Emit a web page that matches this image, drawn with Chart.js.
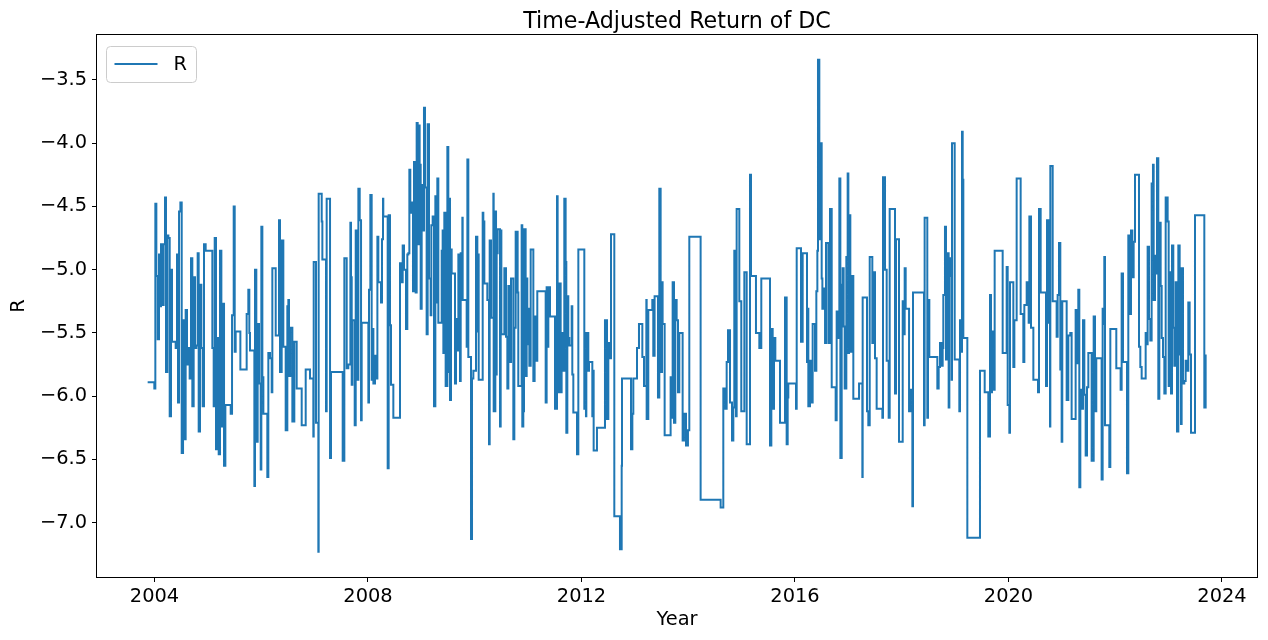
<!DOCTYPE html>
<html lang="en">
  <head>
    <meta charset="UTF-8" />
    <title>Time-Adjusted Return of DC</title>
    <style>
      html,
      body {
        margin: 0;
        padding: 0;
        background: #ffffff;
      }
      #wrap {
        width: 1268px;
        height: 640px;
      }
    </style>
  </head>
  <body>
    <div id="wrap">
      <canvas id="returnChart" width="1268" height="640"></canvas>
    </div>

    <script src="https://cdn.jsdelivr.net/npm/chart.js@4.4.0/dist/chart.umd.min.js"></script>
    <script>
      // Dates as decimal years
      const years = [
        // 2004 - 2005
        2003.872, 2003.997, 2004.016, 2004.035, 2004.060, 2004.085, 2004.103, 2004.122,
        2004.147, 2004.172, 2004.197, 2004.216, 2004.241, 2004.260, 2004.285, 2004.310,
        2004.328, 2004.397, 2004.422, 2004.441, 2004.460, 2004.485, 2004.510, 2004.535,
        2004.560, 2004.584, 2004.609, 2004.634, 2004.659, 2004.684, 2004.709, 2004.734,
        2004.759, 2004.784, 2004.809, 2004.828, 2004.853, 2004.878, 2004.903, 2004.928,
        2004.959, 2005.084, 2005.109, 2005.128, 2005.153, 2005.178, 2005.203, 2005.228,
        2005.253, 2005.278, 2005.303, 2005.328, 2005.428, 2005.453, 2005.484, 2005.503,
        2005.521, 2005.609,
        // 2005 - 2008
        2005.727, 2005.758, 2005.777, 2005.790, 2005.871, 2005.883, 2005.908, 2005.933,
        2005.958, 2005.990, 2006.002, 2006.021, 2006.040, 2006.114, 2006.133, 2006.164,
        2006.196, 2006.208, 2006.271, 2006.333, 2006.352, 2006.383, 2006.414, 2006.458,
        2006.489, 2006.508, 2006.520, 2006.545, 2006.583, 2006.620, 2006.664, 2006.758,
        2006.833, 2006.914, 2006.976, 2006.983, 2007.026, 2007.070, 2007.076, 2007.133,
        2007.145, 2007.214, 2007.226, 2007.289, 2007.307, 2007.526, 2007.557, 2007.601,
        2007.632, 2007.670, 2007.682, 2007.695, 2007.707, 2007.751, 2007.770, 2007.795,
        2007.820, 2007.845, 2007.870, 2007.882, 2008.007, 2008.019, 2008.044, 2008.069,
        2008.088, 2008.101, 2008.132, 2008.163, 2008.176, 2008.194, 2008.244,
        // 2008 - 2010
        2008.262, 2008.281, 2008.287, 2008.369, 2008.387, 2008.412, 2008.431, 2008.475,
        2008.600, 2008.631, 2008.650, 2008.675, 2008.712, 2008.737, 2008.756, 2008.775,
        2008.793, 2008.812, 2008.843, 2008.862, 2008.881, 2008.893, 2008.912, 2008.931,
        2008.950, 2008.968, 2008.987, 2009.006, 2009.024, 2009.037, 2009.049, 2009.068,
        2009.099, 2009.118, 2009.143, 2009.174, 2009.187, 2009.212, 2009.237, 2009.262,
        2009.281, 2009.299, 2009.318, 2009.381, 2009.399, 2009.412, 2009.430, 2009.455,
        2009.487, 2009.505, 2009.524, 2009.537, 2009.555, 2009.568, 2009.630, 2009.649,
        2009.674, 2009.693, 2009.724, 2009.737, 2009.768, 2009.774, 2009.849, 2009.862,
        2009.880, 2009.930, 2009.949, 2009.974, 2010.024, 2010.049, 2010.061, 2010.074,
        2010.149, 2010.161, 2010.180, 2010.236, 2010.267, 2010.280, 2010.305, 2010.349,
        2010.355, 2010.386, 2010.399, 2010.411, 2010.430, 2010.474, 2010.486, 2010.499,
        2010.555, 2010.586, 2010.611, 2010.630, 2010.655, 2010.680, 2010.723, 2010.742,
        2010.767,
        // 2010 - 2013
        2010.804, 2010.816, 2010.879, 2010.891, 2010.910, 2010.923, 2010.954, 2010.973,
        2010.985, 2011.004, 2011.023, 2011.048, 2011.098, 2011.122, 2011.148, 2011.172,
        2011.329, 2011.347, 2011.366, 2011.379, 2011.410, 2011.504, 2011.541, 2011.553,
        2011.585, 2011.610, 2011.628, 2011.653, 2011.678, 2011.703, 2011.716, 2011.735,
        2011.753, 2011.772, 2011.816, 2011.828, 2011.847, 2011.916, 2011.941, 2012.053,
        2012.084, 2012.091, 2012.128, 2012.141, 2012.203, 2012.222, 2012.228, 2012.290,
        2012.440, 2012.478, 2012.503, 2012.534, 2012.553, 2012.615, 2012.721, 2012.753,
        2012.759, 2012.928, 2012.953, 2012.971, 2013.040, 2013.077, 2013.140, 2013.171,
        2013.215, 2013.221, 2013.252,
        // 2013 - 2015
        2013.327, 2013.345, 2013.370, 2013.433, 2013.458, 2013.483, 2013.508, 2013.520,
        2013.558, 2013.670, 2013.683, 2013.708, 2013.733, 2013.758, 2013.783, 2013.808,
        2013.833, 2013.895, 2013.920, 2013.958, 2013.995, 2014.020, 2014.232, 2014.607,
        2014.657, 2014.695, 2014.720, 2014.745, 2014.782, 2014.820, 2014.845, 2014.863,
        2014.895, 2014.907, 2014.957, 2014.994, 2015.051, 2015.095, 2015.157, 2015.176,
        2015.269, 2015.332, 2015.369, 2015.532, 2015.557, 2015.582, 2015.607, 2015.632,
        2015.719, 2015.813,
        // 2015 - 2018
        2015.844, 2015.863, 2015.875, 2016.019, 2016.032, 2016.113, 2016.144, 2016.225,
        2016.238, 2016.250, 2016.281, 2016.313, 2016.331, 2016.375, 2016.400, 2016.419,
        2016.431, 2016.456, 2016.463, 2016.500, 2016.513, 2016.538, 2016.563, 2016.581,
        2016.625, 2016.656, 2016.688, 2016.762, 2016.781, 2016.800, 2016.812, 2016.831,
        2016.850, 2016.875, 2016.894, 2016.912, 2016.931, 2016.962, 2016.987, 2017.000,
        2017.012, 2017.037, 2017.062, 2017.093, 2017.200, 2017.262, 2017.268, 2017.349,
        2017.374, 2017.400, 2017.449, 2017.474, 2017.499, 2017.530, 2017.637, 2017.649,
        2017.687, 2017.718, 2017.755, 2017.774, 2017.874, 2017.893, 2017.949, 2018.018,
        2018.037, 2018.055, 2018.074, 2018.137, 2018.161, 2018.199, 2018.211,
        // 2018 - 2020
        2018.417, 2018.429, 2018.479, 2018.492, 2018.517, 2018.667, 2018.692, 2018.717,
        2018.742, 2018.767, 2018.779, 2018.810, 2018.829, 2018.854, 2018.879, 2018.892,
        2018.917, 2018.935, 2018.942, 2018.992, 2019.079, 2019.092, 2019.110, 2019.129,
        2019.142, 2019.154, 2019.229, 2019.466, 2019.554, 2019.622, 2019.654, 2019.672,
        2019.691, 2019.729, 2019.741, 2019.891, 2019.966, 2019.985, 2020.016, 2020.028,
        2020.091, 2020.110, 2020.153, 2020.228, 2020.278, 2020.297, 2020.341, 2020.378,
        2020.391, 2020.422, 2020.466, 2020.553, 2020.572, 2020.603, 2020.703, 2020.722,
        2020.747, 2020.778, 2020.784, 2020.828,
        // 2020 - 2023
        2020.902, 2020.921, 2020.946, 2020.971, 2020.996, 2021.008, 2021.090, 2021.121,
        2021.158, 2021.183, 2021.258, 2021.277, 2021.308, 2021.327, 2021.346, 2021.371,
        2021.396, 2021.421, 2021.446, 2021.471, 2021.496, 2021.558, 2021.596, 2021.621,
        2021.645, 2021.745, 2021.764, 2021.783, 2021.795, 2021.808, 2021.889, 2021.908,
        2022.020, 2022.101, 2022.120, 2022.145, 2022.220, 2022.245, 2022.270, 2022.295,
        2022.320, 2022.345, 2022.370, 2022.445, 2022.470, 2022.495, 2022.570, 2022.589,
        2022.607, 2022.632, 2022.657, 2022.682, 2022.707, 2022.720, 2022.745, 2022.764,
        2022.782, 2022.807, 2022.826, 2022.851, 2022.870, 2022.895, 2022.920, 2022.945,
        2022.982, 2023.001, 2023.020, 2023.045, 2023.063, 2023.088, 2023.107, 2023.132,
        2023.157, 2023.182, 2023.207, 2023.232, 2023.244, 2023.269, 2023.294, 2023.319,
        2023.344, 2023.369, 2023.394, 2023.419, 2023.494, 2023.669, 2023.694,
      ];

      // R value in force from each date above until the next one
      const returns = [
        // 2004 - 2005
        -5.89, -5.94, -4.48, -5.05, -5.55, -4.88, -5.29, -4.80,
        -5.28, -4.80, -4.43, -5.81, -4.73, -4.75, -6.16, -5.00,
        -5.57, -5.62, -4.88, -6.05, -4.54, -4.47, -6.45, -5.40,
        -6.34, -5.32, -5.75, -5.62, -5.86, -4.91, -6.08, -5.06,
        -5.62, -5.60, -4.87, -6.28, -5.12, -5.62, -6.08, -4.80,
        -4.85, -5.62, -6.08, -4.75, -6.42, -5.54, -6.46, -4.85,
        -6.24, -5.27, -6.55, -6.07, -6.14, -5.36, -4.50, -5.65,
        -5.49, -5.79,
        // 2005 - 2008
        -5.35, -5.16, -5.50, -5.64, -6.71, -5.00, -6.36, -5.43,
        -5.90, -6.58, -4.66, -5.85, -6.14, -6.64, -5.66, -5.70,
        -5.97, -4.99, -5.52, -4.61, -5.81, -4.77, -5.61, -6.27,
        -5.29, -5.24, -5.84, -5.46, -6.20, -5.57, -5.94, -6.23,
        -5.79, -5.86, -6.32, -4.94, -6.21, -7.23, -4.40, -4.62,
        -4.92, -6.12, -4.44, -6.49, -5.81, -6.51, -4.91, -5.78,
        -5.75, -4.63, -5.06, -5.91, -5.40, -6.23, -4.69, -5.87,
        -4.36, -4.61, -6.19, -5.42, -6.05, -5.16, -4.41, -5.87,
        -5.47, -5.90, -5.68, -5.86, -4.74, -5.10, -5.26,
        // 2008 - 2010
        -4.76, -4.44, -4.58, -6.57, -4.57, -5.44, -5.91, -6.17,
        -4.95, -5.10, -4.81, -5.00, -5.47, -4.88, -4.87, -4.21,
        -4.55, -4.47, -5.17, -4.15, -4.69, -5.18, -3.84, -4.80,
        -3.86, -4.17, -5.31, -4.33, -4.50, -4.69, -3.72, -4.35,
        -5.51, -3.85, -5.07, -5.36, -4.65, -4.58, -6.08, -4.42,
        -5.26, -4.28, -5.42, -4.85, -4.69, -5.66, -4.55, -5.92,
        -4.03, -5.81, -4.44, -6.03, -4.84, -5.03, -5.90, -5.39,
        -5.64, -4.88, -5.88, -4.87, -4.59, -5.24, -5.61, -4.13,
        -5.69, -7.13, -5.86, -5.80, -4.74, -5.49, -4.88, -5.87,
        -4.55, -4.62, -5.11, -5.24, -6.38, -4.77, -5.38, -4.40,
        -6.12, -4.54, -5.83, -4.87, -4.68, -6.24, -4.69, -5.51,
        -4.99, -5.53, -5.94, -5.13, -5.73, -5.07, -6.34, -5.46,
        -4.70,
        // 2010 - 2013
        -5.18, -5.92, -4.65, -6.24, -6.12, -4.68, -5.84, -5.07,
        -5.59, -5.31, -5.76, -4.84, -5.88, -5.37, -5.72, -5.17,
        -6.05, -5.14, -5.61, -5.14, -5.37, -6.10, -4.42, -5.97,
        -5.11, -5.97, -5.50, -5.80, -4.44, -4.94, -6.29, -5.21,
        -5.54, -5.60, -5.29, -5.83, -6.13, -6.46, -4.84, -6.10,
        -6.16, -5.50, -5.80, -5.73, -6.16, -5.80, -6.43, -6.25,
        -5.40, -6.18, -5.58, -5.70, -4.72, -6.95, -7.21, -6.55,
        -5.86, -6.42, -6.14, -5.86, -5.62, -5.43, -5.69, -5.92,
        -5.24, -6.18, -5.32,
        // 2013 - 2015
        -5.24, -5.68, -5.21, -6.01, -4.36, -5.81, -5.10, -5.43,
        -6.31, -5.85, -6.17, -5.10, -6.21, -5.24, -5.40, -5.97,
        -5.50, -6.35, -6.14, -6.39, -6.27, -4.74, -6.82, -6.88,
        -5.94, -6.10, -5.73, -5.48, -6.05, -6.35, -6.09, -4.85,
        -6.16, -4.52, -5.25, -6.12, -5.02, -6.38, -4.25, -5.05,
        -5.50, -5.62, -5.07, -6.39, -5.47, -6.10, -5.54, -5.72,
        -6.21, -5.22,
        // 2015 - 2018
        -6.38, -6.01, -5.90, -6.10, -4.83, -5.57, -4.87, -5.73,
        -5.31, -6.08, -5.72, -6.05, -5.43, -5.80, -5.17, -4.85,
        -3.34, -4.76, -4.00, -5.07, -5.31, -5.15, -5.58, -4.79,
        -5.58, -4.52, -5.93, -6.19, -5.33, -5.44, -5.54, -4.28,
        -6.49, -5.12, -4.99, -5.45, -5.94, -4.90, -4.24, -5.66,
        -4.57, -5.65, -5.05, -6.02, -5.90, -6.64, -5.22, -6.12,
        -6.23, -4.90, -5.58, -5.02, -5.70, -6.10, -6.17, -4.27,
        -5.00, -5.72, -6.17, -4.52, -5.98, -4.76, -6.36, -5.25,
        -5.51, -4.99, -5.31, -6.12, -5.95, -6.87, -5.18,
        // 2018 - 2020
        -6.23, -4.59, -6.17, -5.24, -5.69, -5.94, -5.77, -5.58,
        -5.76, -5.62, -5.20, -4.66, -5.71, -4.87, -6.09, -4.91,
        -5.05, -5.87, -4.00, -5.71, -6.12, -5.40, -5.65, -3.91,
        -4.29, -5.54, -7.12, -5.80, -5.97, -6.32, -5.20, -5.97,
        -5.49, -5.95, -4.85, -5.66, -4.98, -6.07, -6.29, -5.10,
        -5.77, -5.40, -4.28, -5.35, -5.73, -5.28, -5.10, -5.42,
        -4.58, -5.46, -5.87, -5.97, -4.52, -5.18, -5.92, -4.61,
        -5.42, -6.24, -4.18, -5.25,
        // 2020 - 2023
        -5.53, -5.20, -4.79, -5.79, -6.36, -5.25, -6.03, -5.52,
        -5.50, -6.18, -5.32, -5.74, -5.16, -6.72, -5.95, -6.10,
        -5.40, -5.99, -6.47, -5.93, -5.66, -6.51, -5.37, -6.12,
        -5.70, -6.66, -5.31, -5.43, -4.90, -6.23, -6.56, -5.47,
        -5.78, -5.95, -5.03, -5.73, -6.61, -4.73, -5.35, -4.69,
        -5.06, -4.78, -4.25, -5.61, -5.77, -5.86, -5.50, -5.59,
        -4.82, -5.39, -5.56, -4.32, -4.17, -5.24, -4.89, -5.03,
        -4.12, -6.02, -4.63, -5.13, -5.54, -5.69, -5.98, -4.43,
        -4.62, -5.92, -5.02, -5.98, -4.81, -5.46, -5.76, -5.10,
        -6.28, -4.81, -5.67, -6.22, -4.99, -5.90, -5.88, -5.72,
        -5.80, -5.26, -5.67, -6.29, -4.57, -6.09, -5.67,
      ];

      const xTicks = [2004, 2008, 2012, 2016, 2020, 2024];
      const yTicks = [-7.0, -6.5, -6.0, -5.5, -5.0, -4.5, -4.0, -3.5];
      const seriesLabel = "R";
      const chartTitle = "Time-Adjusted Return of DC";

      const FONT = "DejaVu Sans";
      const LINE_COLOR = "#1f77b4";
      const TICK_SIZE = 19.4;

      if (years.length !== returns.length) {
        console.warn("years/returns length mismatch", years.length, returns.length);
      }

      // title, full axes frame and the legend box, drawn on top like matplotlib
      const decorPlugin = {
        id: "decor",
        afterDraw(chart) {
          const { ctx, chartArea: a } = chart;
          ctx.save();

          ctx.fillStyle = "#000";
          ctx.font = `22.2px "${FONT}"`;
          ctx.textAlign = "center";
          ctx.textBaseline = "alphabetic";
          ctx.fillText(chartTitle, (a.left + a.right) / 2, 28);

          ctx.strokeStyle = "#000";
          ctx.lineWidth = 1;
          const l = Math.round(a.left) - 0.5;
          const t = Math.round(a.top) - 0.5;
          const r = Math.round(a.right) + 0.5;
          const b = Math.round(a.bottom) + 0.5;
          ctx.strokeRect(l, t, r - l, b - t);

          const lx = a.left + 9.5;
          const ly = a.top + 11.5;
          ctx.beginPath();
          ctx.roundRect(lx, ly, 90, 36, 4);
          ctx.fillStyle = "rgba(255,255,255,0.8)";
          ctx.fill();
          ctx.strokeStyle = "#cccccc";
          ctx.stroke();

          ctx.beginPath();
          ctx.moveTo(lx + 8, ly + 17.5);
          ctx.lineTo(lx + 51, ly + 17.5);
          ctx.strokeStyle = LINE_COLOR;
          ctx.lineWidth = 2;
          ctx.stroke();

          ctx.fillStyle = "#000";
          ctx.font = `${TICK_SIZE}px "${FONT}"`;
          ctx.textAlign = "left";
          ctx.textBaseline = "middle";
          ctx.fillText(seriesLabel, lx + 67, ly + 18);

          ctx.restore();
        },
      };

      function createStepChart() {
        Chart.defaults.font.family = FONT;
        Chart.defaults.color = "#000";

        const ctx = document.getElementById("returnChart").getContext("2d");
        new Chart(ctx, {
          type: "line",
          data: {
            datasets: [
              {
                label: seriesLabel,
                data: years.map((x, i) => ({ x: x, y: returns[i] })),
                stepped: true,
                borderColor: LINE_COLOR,
                borderWidth: 2,
                pointRadius: 0,
                fill: false,
              },
            ],
          },
          options: {
            responsive: false,
            animation: false,
            events: [],
            layout: { padding: { top: 35, right: 11, left: 0, bottom: 0 } },
            plugins: {
              legend: { display: false },
              title: { display: false },
              tooltip: { enabled: false },
            },
            scales: {
              x: {
                type: "linear",
                min: 2002.923,
                max: 2024.656,
                afterBuildTicks: (s) => {
                  s.ticks = xTicks.map((v) => ({ value: v }));
                },
                afterFit: (s) => {
                  s.height = 63;
                },
                grid: {
                  drawOnChartArea: false,
                  drawTicks: true,
                  tickLength: 5,
                  color: "#000",
                },
                border: { display: false },
                ticks: {
                  color: "#000",
                  font: { size: TICK_SIZE },
                  padding: 3,
                  maxRotation: 0,
                  autoSkip: false,
                  callback: (v) => String(v),
                },
                title: {
                  display: true,
                  text: "Year",
                  color: "#000",
                  font: { size: TICK_SIZE },
                  padding: { top: 0, bottom: 8 },
                },
              },
              y: {
                type: "linear",
                min: -7.43,
                max: -3.145,
                afterBuildTicks: (s) => {
                  s.ticks = yTicks.map((v) => ({ value: v }));
                },
                afterFit: (s) => {
                  s.width = 97;
                },
                grid: {
                  drawOnChartArea: false,
                  drawTicks: true,
                  tickLength: 5,
                  color: "#000",
                },
                border: { display: false },
                ticks: {
                  color: "#000",
                  font: { size: TICK_SIZE },
                  padding: 5,
                  autoSkip: false,
                  callback: (v) => (v < 0 ? "\u2212" : "") + Math.abs(v).toFixed(1),
                },
                title: {
                  display: true,
                  text: "R",
                  color: "#000",
                  font: { size: TICK_SIZE },
                  padding: { top: 7, bottom: 0 },
                },
              },
            },
          },
          plugins: [decorPlugin],
        });
      }

      window.onload = createStepChart;
    </script>
  </body>
</html>
